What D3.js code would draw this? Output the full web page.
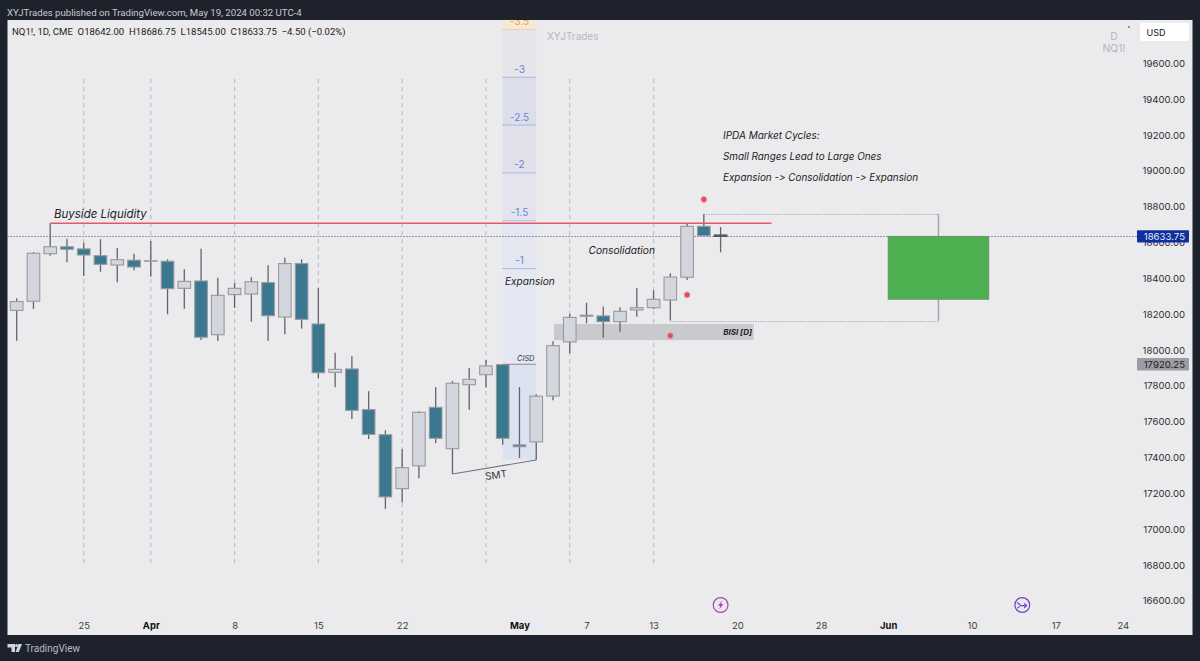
<!DOCTYPE html>
<html>
<head>
<meta charset="utf-8">
<script src="https://cdnjs.cloudflare.com/ajax/libs/d3/7.8.5/d3.min.js"></script>
<style>
html, body { margin: 0; padding: 0; background: #1e222d; overflow: hidden; }
text { font-family: Inter, "Open Sans", sans-serif; font-variant-ligatures: none; font-feature-settings: "calt" 0, "liga" 0; }
</style>
</head>
<body>
<div class="chart"></div>
<script>
// candles: open, high, low, close
const opens  = [18221,18272,18537,18576,18564,18526,18474,18501,18495,18495,18344,18385,18085,18309,18312,18376,18184,18482,18145,17875,17894,17667,17527,17226,17353,17680,17449,17806,17862,17918,17470,17487,17743,18045,18188,18190,18158,18223,18236,18279,18406,18690,18642];
const highs  = [18288,18545,18707,18621,18599,18618,18569,18537,18608,18506,18450,18565,18403,18374,18406,18473,18515,18506,18346,17985,17965,17769,17552,17446,17660,17793,17827,17900,17944,17920.25,17793,17753,18049,18201,18264,18242,18238,18346,18333,18428,18707,18759,18686.75];
const lows   = [18052,18229,18526,18489,18413,18437,18378,18445,18409,18199,18230,18056,18050,18234,18158,18052,18088,18119,17842,17792,17615,17503,17113,17148,17284,17479,17308,17667,17790,17471,17397,17386,17719,17982,18149,18069,18102,18186,18227,18164,18391,18638,18545];
const closes = [18270,18540,18576,18562,18530,18478,18504,18463,18498,18342,18383,18071,18305,18344,18381,18191,18482,18171,17873,17892,17663,17529,17180,17343,17652,17507,17814,17836,17911,17507,17460,17742,18024,18182,18194,18158,18216,18236,18283,18407,18690,18638,18633.75];

const priceTicks = [19600,19400,19200,19000,18800,18600,18400,18200,18000,17800,17600,17400,17200,17000,16800,16600];
const dateTicks = [4,8,13,18,23,30,34,38,43,48,52,57,62,66];
const dateLabels = ["25","Apr","8","15","22","May","7","13","20","28","Jun","10","17","24"];
const boldDates = ["Apr","May","Jun"];
const breakLines = [4,8,13,18,23,28,33,38];

const lastPrice = 18633.75;
const cisdPrice = 17920.25;
const buysidePrice = 18707;
const fibLevels = [-1,-1.5,-2,-2.5,-3,-3.5];
const fibRange = 534;
const redDots = [[41,18840],[40,18308],[39,18080]];
const smt = [[26,17308],[31,17386]];
const projection = {open:18283, high:18759, low:18162, close:18634, from:52, to:58};

const width = 1200, height = 661;
const panel = {left:7.5, top:20, right:1192.5, bottom:635};

const x = d3.scaleLinear().domain([0,42]).range([16.7,720.6]);
const y = d3.scaleLinear().domain([19600,16600]).range([63.3,600.8]);
const fibY = k => y(cisdPrice - k*fibRange);

const svg = d3.select('.chart').append('svg')
	.attr('width', width)
	.attr('height', height)
	.style('display','block');

svg.append('rect').attr('width',width).attr('height',height).attr('fill','#1e222d');
svg.append('rect')
	.attr('x',panel.left).attr('y',panel.top)
	.attr('width',panel.right-panel.left).attr('height',panel.bottom-panel.top)
	.attr('fill','#ebebed');

// header
svg.append('text').attr('x',7).attr('y',15.5).attr('font-size',9.6).attr('fill','#c9cace')
	.style('font-family','Roboto')
	.text('XYJTrades published on TradingView.com, May 19, 2024 00:32 UTC-4');
svg.append('text').attr('x',12).attr('y',35).attr('font-size',9.55).attr('fill','#1c1c20')
	.style('font-family','Roboto')
	.attr('xml:space','preserve')
	.text('NQ1!, 1D, CME  O18642.00  H18686.75  L18545.00  C18633.75  −4.50 (−0.02%)');

// fib box, clipped to the panel
svg.append('clipPath').attr('id','panel').append('rect')
	.attr('x',panel.left).attr('y',panel.top)
	.attr('width',panel.right-panel.left).attr('height',panel.bottom-panel.top);
const g = svg.append('g').attr('clip-path','url(#panel)');

const fibX0 = x(29), fibX1 = x(31);
const bands = [
	[-3.6,-3,'#e6e6ea'],
	[-3,-2.5,'#dcdeea'],
	[-2.5,-2,'#dfe0ea'],
	[-2,-1.5,'#e3e4ed'],
	[-1.5,-1,'#e4e6f0'],
	[-1,0,'#e5e8f2'],
	[0,1.0,'#dde2f1']
];
g.selectAll('rect.band').data(bands).enter().append('rect')
	.attr('class','band')
	.attr('x',fibX0).attr('width',fibX1-fibX0)
	.attr('y',d=>fibY(d[0]))
	.attr('height',d=>fibY(d[1])-fibY(d[0]))
	.attr('fill',d=>d[2]);
g.append('rect').attr('x',fibX0).attr('width',fibX1-fibX0)
	.attr('y',panel.top).attr('height',fibY(-3.5)-panel.top).attr('fill','#f6ead6');

// session break lines
g.selectAll('line.brk').data(breakLines).enter().append('line')
	.attr('class','brk')
	.attr('x1',d=>x(d)).attr('x2',d=>x(d))
	.attr('y1',79).attr('y2',565)
	.attr('stroke','#bcbdc1').attr('stroke-width',1.2).attr('stroke-dasharray','4 4');

g.selectAll('line.fib').data(fibLevels).enter().append('line')
	.attr('class','fib')
	.attr('x1',fibX0).attr('x2',fibX1)
	.attr('y1',d=>fibY(d)).attr('y2',d=>fibY(d))
	.attr('stroke',d=>d==-3.5?'#f0b869':'#7d8de0').attr('stroke-width',1).attr('stroke-dasharray','1 1');
g.selectAll('text.fib').data(fibLevels).enter().append('text')
	.attr('class','fib')
	.attr('x',(fibX0+fibX1)/2).attr('y',d=>fibY(d)-4.5)
	.attr('text-anchor','middle').attr('font-size',10)
	.attr('fill',d=>d==-3.5?'#eba54a':'#6a83d8')
	.text(d=>d);

// BISI block
g.append('rect').attr('x',x(32)+1).attr('y',y(18145)).attr('width',x(44)-x(32)-1.5)
	.attr('height',y(18055)-y(18145)).attr('fill','#c9cacd');

// guides to the projection
g.append('line').attr('x1',x(41)).attr('x2',x(55))
	.attr('y1',Math.round(y(projection.high))+0.5).attr('y2',Math.round(y(projection.high))+0.5)
	.attr('stroke','#9c9da1').attr('stroke-dasharray','1 1.5');
g.append('line').attr('x1',x(39)).attr('x2',x(55))
	.attr('y1',Math.round(y(projection.low))+0.5).attr('y2',Math.round(y(projection.low))+0.5)
	.attr('stroke','#9c9da1').attr('stroke-dasharray','1 1.5');

// last price line
g.append('line').attr('x1',panel.left).attr('x2',1137)
	.attr('y1',Math.floor(y(lastPrice))+0.5).attr('y2',Math.floor(y(lastPrice))+0.5)
	.attr('stroke','#36426e').attr('stroke-dasharray','1 2');

// candles
const candles = opens.map((o,i)=>({i:i,o:o,h:highs[i],l:lows[i],c:closes[i]}));
const bodyW = 12.6;
g.selectAll('line.wick').data(candles).enter().append('line')
	.attr('class','wick')
	.attr('x1',d=>x(d.i)).attr('x2',d=>x(d.i))
	.attr('y1',d=>y(d.h)).attr('y2',d=>y(d.l))
	.attr('stroke','#636468').attr('stroke-width',1.3);
g.selectAll('rect.body').data(candles).enter().append('rect')
	.attr('class','body')
	.attr('x',d=>x(d.i)-bodyW/2).attr('width',bodyW)
	.attr('y',d=>y(Math.max(d.o,d.c)))
	.attr('height',d=>Math.max(Math.abs(y(d.o)-y(d.c)),0.5))
	.attr('fill',d=>d.c>=d.o?'#d4d6dd':'#39788f')
	.attr('stroke',d=>d.i==42?'#55565a':'#98999f').attr('stroke-width',1.1);

// projected candle
g.append('line').attr('x1',x((projection.from+projection.to)/2)).attr('x2',x((projection.from+projection.to)/2))
	.attr('y1',y(projection.high)).attr('y2',y(projection.low))
	.attr('stroke','#a3a4a8').attr('stroke-width',1.4);
g.append('rect').attr('x',x(projection.from)).attr('width',x(projection.to)-x(projection.from))
	.attr('y',y(projection.close)).attr('height',y(projection.open)-y(projection.close))
	.attr('fill','#4caf50').attr('stroke','#6f8f72').attr('stroke-width',0.9);

// buyside line
g.append('line').attr('x1',x(2)).attr('x2',771.5)
	.attr('y1',y(buysidePrice)).attr('y2',y(buysidePrice))
	.attr('stroke','#e2596a').attr('stroke-width',1.6);

// CISD line
g.append('line').attr('x1',x(29)).attr('x2',x(31))
	.attr('y1',y(cisdPrice)).attr('y2',y(cisdPrice))
	.attr('stroke','#777a85').attr('stroke-width',0.8);

// SMT
g.append('line').attr('x1',x(smt[0][0])).attr('x2',x(smt[1][0]))
	.attr('y1',y(smt[0][1])).attr('y2',y(smt[1][1]))
	.attr('stroke','#77787c').attr('stroke-width',1.1);

// red dots
g.selectAll('circle.dot').data(redDots).enter().append('circle')
	.attr('class','dot')
	.attr('cx',d=>x(d[0])).attr('cy',d=>y(d[1])).attr('r',2.9)
	.attr('fill','#e4485a').attr('stroke','#e89aa2').attr('stroke-width',1);

// notes
const notes = [
	['Buyside Liquidity',54,218,11.5,'#222'],
	['Expansion',505,284.5,10.1,'#222'],
	['Consolidation',588.5,254,10.2,'#222'],
	['IPDA Market Cycles:',723,139,10,'#222'],
	['Small Ranges Lead to Large Ones',723,160,9.9,'#222'],
	['Expansion -> Consolidation -> Expansion',723,181,9.9,'#222'],
	['CISD',517,361,7.4,'#333']
];
g.selectAll('text.note').data(notes).enter().append('text')
	.attr('class','note')
	.attr('x',d=>d[1]).attr('y',d=>d[2])
	.attr('font-size',d=>d[3]).attr('fill',d=>d[4])
	.attr('font-style','italic')
	.text(d=>d[0]);
g.append('text').attr('x',752).attr('y',334.5).attr('text-anchor','end')
	.attr('font-size',8).attr('font-weight',700).attr('font-style','italic').attr('fill','#222')
	.text('BISI [D]');
g.append('text').attr('transform','translate(496.5,478.5) rotate(-8)')
	.attr('text-anchor','middle').attr('font-size',10).attr('fill','#333').text('SMT');

// watermarks
g.append('text').attr('x',547).attr('y',40).attr('font-size',10).attr('fill','#b6b7bb').text('XYJTrades');
g.append('text').attr('x',1114).attr('y',39.5).attr('text-anchor','middle').attr('font-size',10.4).attr('fill','#b6b7bb').text('D');
g.append('text').attr('x',1114).attr('y',51.5).attr('text-anchor','middle').attr('font-size',10.4).attr('fill','#b6b7bb').text('NQ1!');

// price axis
const yAxis = d3.axisLeft(y).tickValues(priceTicks).tickFormat(d3.format('.2f')).tickSize(0).tickPadding(0);
const yG = svg.append('g').attr('transform','translate(1185,0)').call(yAxis);
yG.select('.domain').remove();
yG.selectAll('text').attr('font-size',9.6).attr('fill','#2e2f33').style('font-family','Inter');

// time axis
const xAxis = d3.axisBottom(x).tickValues(dateTicks).tickFormat((d,i)=>dateLabels[i]).tickSize(0).tickPadding(0);
const xG = svg.append('g').attr('transform','translate(0,622.5)').call(xAxis);
xG.select('.domain').remove();
xG.selectAll('text').attr('font-size',9.5).style('font-family','Inter')
	.attr('font-weight',(d,i)=>boldDates.includes(dateLabels[i])?700:400)
	.attr('fill',(d,i)=>boldDates.includes(dateLabels[i])?'#111':'#3a3b40');

// price tags
const tags = [[lastPrice,'#0f2f9c','#e8ecff'],[cisdPrice,'#9a9ca6','#222']];
svg.selectAll('rect.tag').data(tags).enter().append('rect')
	.attr('class','tag')
	.attr('x',1137).attr('width',52).attr('y',d=>y(d[0])-6.2).attr('height',12.4)
	.attr('rx',1).attr('fill',d=>d[1]);
svg.selectAll('text.tag').data(tags).enter().append('text')
	.attr('class','tag')
	.attr('x',1185).attr('y',d=>y(d[0])+3.5).attr('text-anchor','end')
	.attr('font-size',9.6).attr('fill',d=>d[2])
	.text(d=>d3.format('.2f')(d[0]));

// currency box
svg.append('rect').attr('x',1140).attr('y',23).attr('width',49).attr('height',18).attr('rx',2).attr('fill','#fff');
svg.append('text').attr('x',1146.5).attr('y',35.5).attr('font-size',9).attr('fill','#111').text('USD');
svg.append('circle').attr('cx',1129).attr('cy',27).attr('r',0.8).attr('fill','#222');

// event icons
const icon1 = svg.append('g').attr('transform',`translate(${x(42)},605)`);
icon1.append('circle').attr('r',7.4).attr('fill','none').attr('stroke','#a04bb5').attr('stroke-width',1.2);
icon1.append('path').attr('d','M1.6,-4.4L-2.6,0.8H-0.2L-1.4,4.4L2.8,-0.9H0.4Z').attr('fill','#a83fb0');
const icon2 = svg.append('g').attr('transform',`translate(${x(60)},605)`);
icon2.append('circle').attr('r',7.4).attr('fill','none').attr('stroke','#6b3fc9').attr('stroke-width',1.2);
icon2.append('path').attr('d','M-5,-2.5L-1.4,0.6H4M1.8,-1.8L4.4,0.6L1.8,3M-5,3.2L-2.4,1.4')
	.attr('fill','none').attr('stroke','#6b3fc9').attr('stroke-width',1.1);

// footer
svg.append('path').attr('d','M7.5,644H15V652H11.5V647.5H7.5Z M15.6,652L18.5,644H22L18.8,652Z').attr('fill','#d4d5d9');
svg.append('circle').attr('cx',16.5).attr('cy',645.6).attr('r',1.5).attr('fill','#d4d5d9');
svg.append('text').attr('x',25).attr('y',652).attr('font-size',10).attr('fill','#b9bbc0').style('font-family','Roboto').text('TradingView');
</script>
</body>
</html>
